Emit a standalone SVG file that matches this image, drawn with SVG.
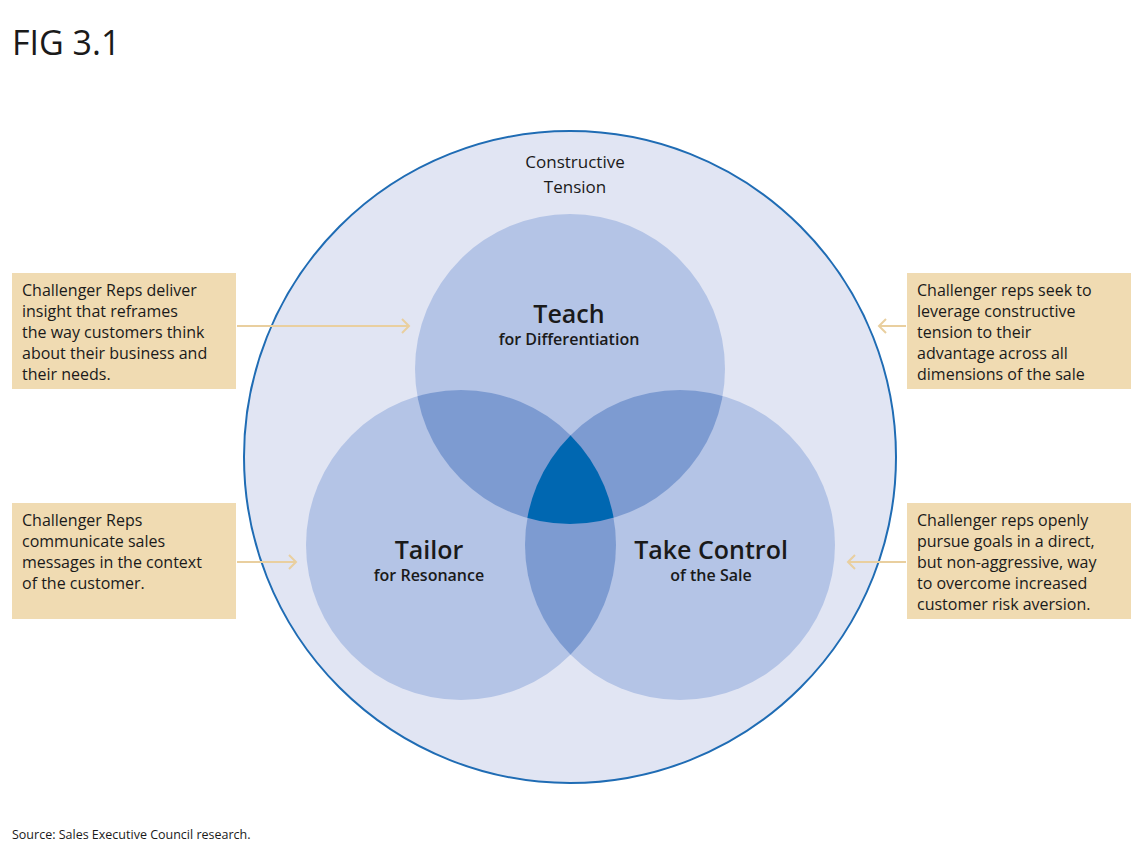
<svg xmlns="http://www.w3.org/2000/svg" width="1148" height="864" viewBox="0 0 1148 864">
<style>
text{font-family:"Open Sans","Liberation Sans",sans-serif;fill:#1a1a1a}
.box{fill:#f0dbb2}
.bt{font-size:16px}
.big{font-size:25px;font-weight:600}
.sub{font-size:16px;font-weight:600}
.c{fill:#b4c4e6}
.o{fill:#7d9bd1}
.con{stroke:#e9cf9f;stroke-width:2;fill:none}
</style>
<defs>
<clipPath id="cA"><circle cx="570" cy="369" r="155"/></clipPath>
<clipPath id="cB"><circle cx="461" cy="545" r="155"/></clipPath>
<clipPath id="cC"><circle cx="680" cy="545" r="155"/></clipPath>
</defs>
<rect width="1148" height="864" fill="#fff"/>
<text x="12" y="55" style="font-size:34px;font-weight:500">FIG 3.1</text>
<g id="outer">
<circle cx="570" cy="457" r="326" fill="#e1e5f3" stroke="#1f6cb4" stroke-width="2"/>
<text x="575" y="168" text-anchor="middle" style="font-size:17px">Constructive</text>
<text x="575" y="193" text-anchor="middle" style="font-size:17px">Tension</text>
</g>
<g id="teach"><circle class="c" cx="570" cy="369" r="155"/></g>
<g id="tailor"><circle class="c" cx="461" cy="545" r="155"/></g>
<g id="takecontrol"><circle class="c" cx="680" cy="545" r="155"/></g>
<g id="overlaps">
<circle class="o" cx="461" cy="545" r="155" clip-path="url(#cA)"/>
<circle class="o" cx="680" cy="545" r="155" clip-path="url(#cA)"/>
<circle class="o" cx="680" cy="545" r="155" clip-path="url(#cB)"/>
<g clip-path="url(#cA)"><circle cx="680" cy="545" r="155" fill="#0067b1" clip-path="url(#cB)"/></g>
</g>
<g id="labels">
<text class="big" x="569" y="323" text-anchor="middle">Teach</text>
<text class="sub" x="569" y="345" text-anchor="middle">for Differentiation</text>
<text class="big" x="429" y="559" text-anchor="middle">Tailor</text>
<text class="sub" x="429" y="581" text-anchor="middle">for Resonance</text>
<text class="big" x="711" y="559" text-anchor="middle">Take Control</text>
<text class="sub" x="711" y="581" text-anchor="middle">of the Sale</text>
</g>
<g id="box1"><rect class="box" x="12" y="273" width="224" height="116"/>
<text class="bt" x="22" y="296">Challenger Reps deliver</text>
<text class="bt" x="22" y="317">insight that reframes</text>
<text class="bt" x="22" y="338">the way customers think</text>
<text class="bt" x="22" y="359">about their business and</text>
<text class="bt" x="22" y="380">their needs.</text></g>
<g id="box2"><rect class="box" x="12" y="503" width="224" height="116"/>
<text class="bt" x="22" y="526">Challenger Reps</text>
<text class="bt" x="22" y="547">communicate sales</text>
<text class="bt" x="22" y="568">messages in the context</text>
<text class="bt" x="22" y="589">of the customer.</text></g>
<g id="box3"><rect class="box" x="907" y="273" width="224" height="116"/>
<text class="bt" x="917" y="296">Challenger reps seek to</text>
<text class="bt" x="917" y="317">leverage constructive</text>
<text class="bt" x="917" y="338">tension to their</text>
<text class="bt" x="917" y="359">advantage across all</text>
<text class="bt" x="917" y="380">dimensions of the sale</text></g>
<g id="box4"><rect class="box" x="907" y="503" width="224" height="116"/>
<text class="bt" x="917" y="526">Challenger reps openly</text>
<text class="bt" x="917" y="547">pursue goals in a direct,</text>
<text class="bt" x="917" y="568">but non-aggressive, way</text>
<text class="bt" x="917" y="589">to overcome increased</text>
<text class="bt" x="917" y="610">customer risk aversion.</text></g>
<g id="connectors">
<path class="con" d="M237 326H409M402 319l7 7-7 7"/>
<path class="con" d="M237 562H296M289 555l7 7-7 7"/>
<path class="con" d="M906 326H879M886 319l-7 7 7 7"/>
<path class="con" d="M906 562H848M855 555l-7 7 7 7"/>
</g>
<text x="12" y="839" style="font-size:12.5px">Source: Sales Executive Council research.</text>
</svg>
